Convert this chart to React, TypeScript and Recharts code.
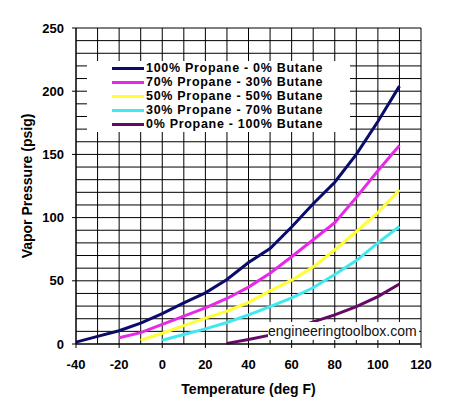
import { LineChart, Line, XAxis, YAxis, CartesianGrid, Legend, Label } from "recharts";

const TEMPS = [-40, -30, -20, -10, 0, 10, 20, 30, 40, 50, 60, 70, 80, 90, 100, 110];

const PROPANE_100 = [1.5, 6, 10.5, 16.5, 24, 32.5, 40.5, 51, 64.5, 75.5, 92.5, 111, 128, 150, 176, 204];
const PROPANE_70 = [null, null, 5, 9, 15.5, 22, 28.5, 36, 45, 56, 69, 82.5, 96, 116, 137, 157];
const PROPANE_50 = [null, null, null, 3, 8.5, 14.5, 20.5, 26, 33, 42, 50.5, 61, 74.5, 89, 104, 122];
const PROPANE_30 = [null, null, null, null, 3, 7.5, 12, 17, 23, 29.5, 36.5, 44.5, 55, 66, 80, 93];
const BUTANE_100 = [null, null, null, null, null, null, null, 0.5, 3.5, 7, 11.5, 17.5, 23, 29.5, 37.5, 47.5];

const X_TICKS = [-40, -20, 0, 20, 40, 60, 80, 100, 120];
const Y_TICKS = [0, 50, 100, 150, 200, 250];
const X_GRID = [-40, -30, -20, -10, 0, 10, 20, 30, 40, 50, 60, 70, 80, 90, 100, 110, 120];
const Y_GRID = [0, 10, 20, 30, 40, 50, 60, 70, 80, 90, 100, 110, 120, 130, 140, 150, 160, 170, 180, 190, 200, 210, 220, 230, 240, 250];

const SERIES = [
  { key: "p100", name: "100% Propane - 0% Butane", color: "#0b0b6b", values: PROPANE_100 },
  { key: "p70", name: "70% Propane - 30% Butane", color: "#e629e6", values: PROPANE_70 },
  { key: "p50", name: "50% Propane - 50% Butane", color: "#ffff33", values: PROPANE_50 },
  { key: "p30", name: "30% Propane - 70% Butane", color: "#40e8f0", values: PROPANE_30 },
  { key: "b100", name: "0% Propane - 100% Butane", color: "#640a64", values: BUTANE_100 },
];

const data = TEMPS.map((t, i) => {
  const row: Record<string, number | null> = { t };
  SERIES.forEach((s) => { row[s.key] = s.values[i]; });
  return row;
});

const FONT = '"Liberation Sans", Arial, sans-serif';
const tickStyle = { fontSize: 13, fontWeight: 700, fill: "#000", fontFamily: FONT };

function LegendBox() {
  return (
    <div style={{ background: "#fff", width: 263, height: 71, boxSizing: "border-box", fontFamily: FONT }}>
      {SERIES.map((s) => (
        <div key={s.key} style={{ display: "flex", alignItems: "center", height: 14 }}>
          <div style={{ marginLeft: 25, width: 32, height: 3, background: s.color }} />
          <span
            style={{
              marginLeft: 2,
              fontSize: 12.5,
              fontWeight: 700,
              letterSpacing: 0.7,
              lineHeight: "14px",
              color: "#000",
              whiteSpace: "nowrap",
            }}
          >
            {s.name}
          </span>
        </div>
      ))}
    </div>
  );
}

export default function App() {
  return (
    <div style={{ position: "absolute", left: 0, top: 0, width: 451, height: 418, background: "#fff" }}>
      <style>{"body{margin:0}"}</style>
      <LineChart width={451} height={418} data={data} margin={{ top: 28, right: 30, left: 0, bottom: 0 }}>
        <CartesianGrid stroke="#000" strokeWidth={1} horizontalValues={Y_GRID} verticalValues={X_GRID} />
        <XAxis
          type="number"
          dataKey="t"
          domain={[-40, 120]}
          ticks={X_TICKS}
          height={74}
          tickSize={4}
          tickMargin={12}
          tick={tickStyle}
          axisLine={{ stroke: "#000" }}
          tickLine={{ stroke: "#000" }}
          interval={0}
        >
          <Label
            value="Temperature (deg F)"
            position="insideBottom"
            offset={24}
            style={{ fontSize: 14, fontWeight: 700, fill: "#000", fontFamily: FONT }}
          />
        </XAxis>
        <YAxis
          type="number"
          domain={[0, 250]}
          ticks={Y_TICKS}
          width={76}
          tickSize={4}
          tickMargin={8}
          tick={tickStyle}
          axisLine={{ stroke: "#000" }}
          tickLine={{ stroke: "#000" }}
          interval={0}
        >
          <Label
            value="Vapor Pressure (psig)"
            angle={-90}
            position="insideLeft"
            offset={27}
            style={{ fontSize: 14, fontWeight: 700, fill: "#000", fontFamily: FONT, textAnchor: "middle" }}
          />
        </YAxis>
        <Legend
          layout="horizontal"
          verticalAlign="middle"
          align="center"
          content={() => <LegendBox />}
          wrapperStyle={{ left: 87, top: 61, width: 263, height: 71 }}
        />
        {SERIES.map((s) => (
          <Line
            key={s.key}
            type="linear"
            dataKey={s.key}
            name={s.name}
            stroke={s.color}
            strokeWidth={3}
            dot={false}
            activeDot={false}
            isAnimationActive={false}
          />
        ))}
      </LineChart>
      <div
        style={{
          position: "absolute",
          left: 268,
          top: 322,
          width: 151,
          height: 18,
          background: "#fff",
          fontFamily: FONT,
          fontSize: 14,
          lineHeight: "18px",
          color: "#111",
          whiteSpace: "nowrap",
        }}
      >
        engineeringtoolbox.com
      </div>
    </div>
  );
}
